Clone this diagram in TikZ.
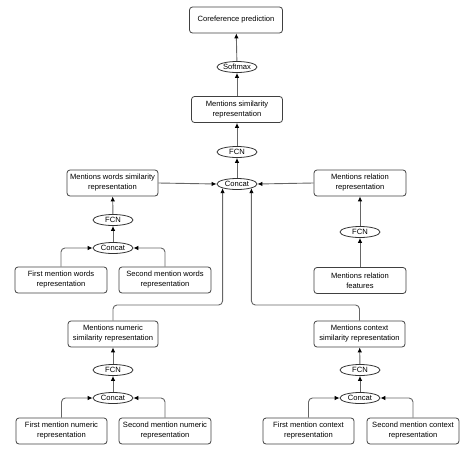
\documentclass[tikz,border=0pt]{standalone}
\usepackage{fontspec}
\setmainfont{Liberation Sans}
\usetikzlibrary{arrows.meta,shapes.geometric}
\begin{document}
\begin{tikzpicture}[x=1pt,y=-1pt,
  box/.style={draw=black!75,line width=0.8pt,rounded corners=3pt,minimum width=91pt,minimum height=26pt,align=center,inner sep=1pt,font=\fontsize{7.6}{10}\selectfont},
  op/.style={draw=black!80,line width=0.8pt,ellipse,minimum width=40pt,minimum height=11pt,inner sep=0pt,font=\fontsize{7.6}{9}\selectfont},
  conn/.style={draw=black!60,line width=0.9pt,-{Latex[length=5pt,width=4.5pt,black]},rounded corners=4pt}]
\useasboundingbox (0,0) rectangle (474,450);
% top column
\node[box,minimum width=93pt] (coref) at (236,20) {Coreference prediction};
\node[op] (softmax) at (237,67) {Softmax};
\node[box] (msim) at (237,109.5) {Mentions similarity\\representation};
\node[op] (fcn) at (237,152) {FCN};
\node[op] (concat) at (237,184) {Concat};
% left words
\node[box] (wordsim) at (112.5,183) {Mentions words similarity\\representation};
\node[op] (fcnl) at (113,220) {FCN};
\node[op] (concatl) at (113,248) {Concat};
\node[box,minimum width=92pt] (fw) at (61,280) {First mention words\\representation};
\node[box,minimum width=92pt] (sw) at (165,280) {Second mention words\\representation};
% right relation
\node[box,minimum width=92pt] (rel) at (360,183) {Mentions relation\\representation};
\node[op] (fcnr) at (360,232) {FCN};
\node[box,minimum width=92pt] (feat) at (360,280.5) {Mentions relation\\features};
% numeric
\node[box,minimum width=90pt] (numsim) at (113,334) {Mentions numeric\\similarity representation};
\node[op] (fcnn) at (113,370) {FCN};
\node[op] (concatn) at (113,398) {Concat};
\node[box] (fn) at (61.5,431) {First mention numeric\\representation};
\node[box,minimum width=92pt] (sn) at (165,431) {Second mention numeric\\representation};
% context
\node[box] (ctxsim) at (359.5,334) {Mentions context\\similarity representation};
\node[op] (fcnc) at (360,370) {FCN};
\node[op] (concatc) at (360,398) {Concat};
\node[box] (fc) at (308.5,431) {First mention context\\representation};
\node[box,minimum width=92pt] (sc) at (413,431) {Second mention context\\representation};
% connectors top
\draw[conn] (softmax) -- (coref);
\draw[conn] (msim) -- (softmax);
\draw[conn] (fcn) -- (msim);
\draw[conn] (concat) -- (fcn);
\draw[conn] (wordsim.east) -- (concat.west);
\draw[conn] (rel.west) -- (concat.east);
% words
\draw[conn] (fcnl) -- (wordsim);
\draw[conn] (concatl) -- (fcnl);
\draw[conn] (fw.north) |- (concatl.west);
\draw[conn] (sw.north) |- (concatl.east);
% relation
\draw[conn] (fcnr) -- (rel);
\draw[conn] (feat) -- (fcnr);
% numeric
\coordinate (jl) at (concat.south west |- 0,305);
\coordinate (jr) at (concat.south east |- 0,305);
\draw[conn] (numsim.north) |- (jl) -- (concat.south west);
\draw[conn] (fcnn) -- (numsim);
\draw[conn] (concatn) -- (fcnn);
\draw[conn] (fn.north) |- (concatn.west);
\draw[conn] (sn.north) |- (concatn.east);
% context
\draw[conn] (ctxsim.north) |- (jr) -- (concat.south east);
\draw[conn] (fcnc) -- (ctxsim);
\draw[conn] (concatc) -- (fcnc);
\draw[conn] (fc.north) |- (concatc.west);
\draw[conn] (sc.north) |- (concatc.east);
\end{tikzpicture}
\end{document}
